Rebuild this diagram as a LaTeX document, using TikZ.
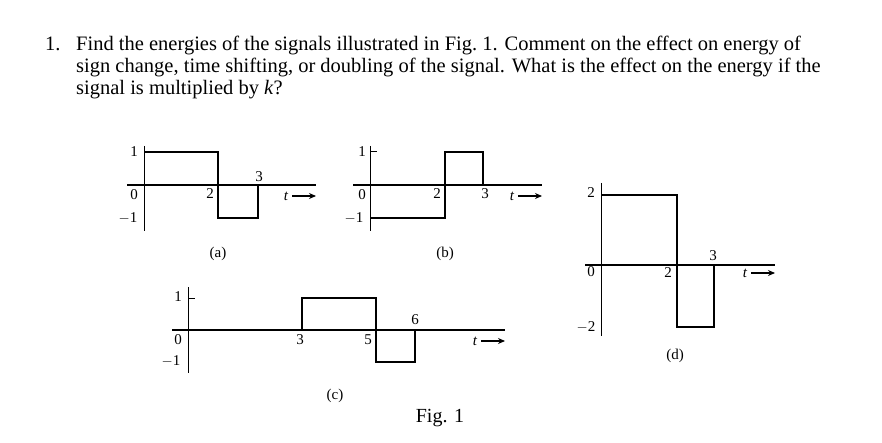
\documentclass[tikz,border=0pt]{standalone}
\usepackage{fontspec}
\setmainfont{Liberation Serif}
\usetikzlibrary{arrows.meta}
\begin{document}
\begin{tikzpicture}[x=1pt,y=-1pt,
  ax/.style={line width=1pt},
  arr/.style={line width=1.3pt,-{Stealth[length=7pt,width=6pt]}},
  sig/.style={line width=2pt},
  lab/.style={font=\fontsize{15}{15}\selectfont,inner sep=0pt},
  tl/.style={font=\fontsize{15}{15}\selectfont\itshape,inner sep=0pt},
  body/.style={font=\fontsize{20.5}{22}\selectfont,inner sep=0pt,anchor=base west}]
\useasboundingbox[fill=white] (0,0) rectangle (882,443);
% text
\node[body] (n1) at (45,51) {1.};
\node[body] (l1) at (76,51) {Find the energies of the signals illustrated in Fig.~1. Comment on the effect on energy of};
\node[body] (l2) at (76,73) {sign change, time shifting, or doubling of the signal. What is the effect on the energy if the};
\node[body] (l3) at (76,95) {signal is multiplied by \textit{k}?};
% (a)
\draw[ax] (144,146) -- (144,231);
\draw[sig] (127,185) -- (316,185);
\draw[sig] (144,152) -- (218,152) -- (218,218) -- (258,218) -- (258,185);
\node[lab] at (134,152) {1};
\node[lab] at (134,195) {0};
\node[lab] at (128,218) {$-$1};
\node[lab] at (210,194) {2};
\node[lab] at (259,177) {3};
\node[tl] at (286,196) {t};
\draw[arr] (292,196) -- (316,196);
\node[lab] at (218,254) {(a)};
% (b)
\draw[ax] (370,146) -- (370,231);
\draw[ax] (370,152) -- (377,152);
\draw[sig] (353,185) -- (542,185);
\draw[sig] (370,218) -- (445,218) -- (445,152) -- (483,152) -- (483,185);
\node[lab] at (362,152) {1};
\node[lab] at (362,195) {0};
\node[lab] at (354,218) {$-$1};
\node[lab] at (437,194) {2};
\node[lab] at (485,194) {3};
\node[tl] at (512,196) {t};
\draw[arr] (518,196) -- (542,196);
\node[lab] at (445,254) {(b)};
% (c)
\draw[ax] (188,287) -- (188,373);
\draw[ax] (188,298) -- (195,298);
\draw[sig] (172,330) -- (505,330);
\draw[sig] (302,330) -- (302,298) -- (376,298) -- (376,362) -- (415,362) -- (415,330);
\node[lab] at (178,297) {1};
\node[lab] at (178,340) {0};
\node[lab] at (171,361) {$-$1};
\node[lab] at (300,340) {3};
\node[lab] at (368,340) {5};
\node[lab] at (415,320) {6};
\node[tl] at (475,341) {t};
\draw[arr] (481,341) -- (505,341);
\node[lab] at (335,396) {(c)};
% (d)
\draw[ax] (601,183) -- (601,336);
\draw[ax] (601,195) -- (608,195);
\draw[sig] (585,265) -- (775,265);
\draw[sig] (601,195) -- (677,195) -- (677,327) -- (714,327) -- (714,265);
\node[lab] at (591,193) {2};
\node[lab] at (591,272) {0};
\node[lab] at (586,327) {$-$2};
\node[lab] at (668,273) {2};
\node[lab] at (713,256) {3};
\node[tl] at (745,273) {t};
\draw[arr] (751,273) -- (775,273);
\node[lab] at (675,356) {(d)};
\node[lab,font=\fontsize{20}{20}\selectfont] at (440,418) {Fig. 1};
\end{tikzpicture}
\end{document}
